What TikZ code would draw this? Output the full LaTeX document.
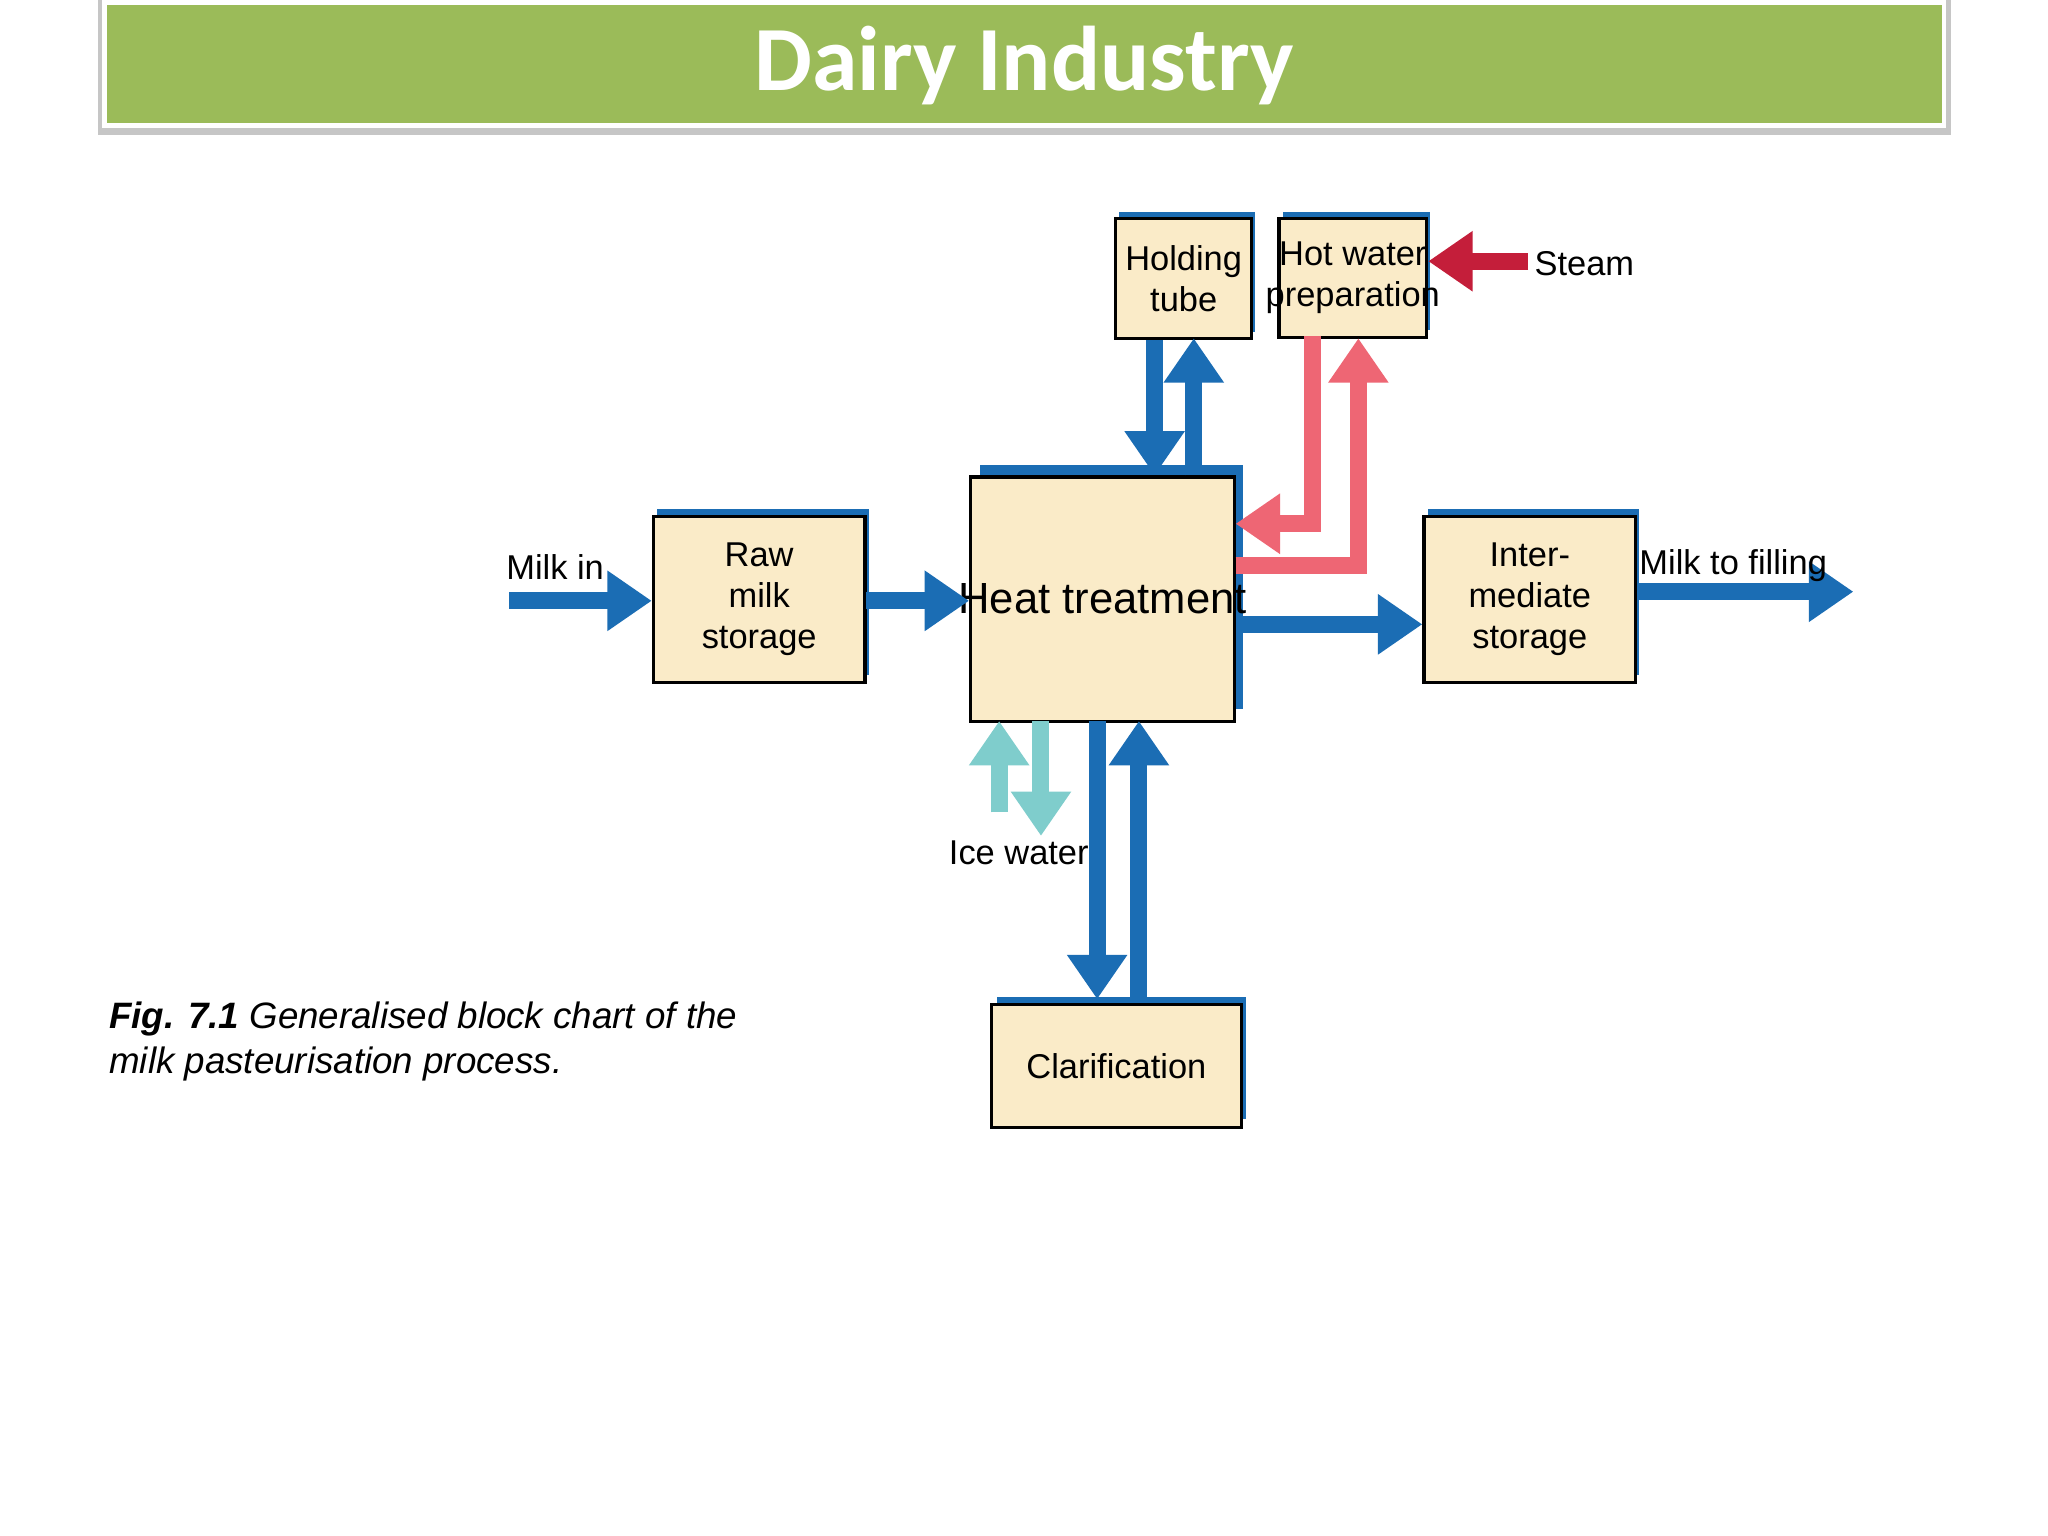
\documentclass[tikz,border=0pt]{standalone}
\usepackage{fontspec}
\setmainfont{Liberation Sans}
\newfontfamily\titlefont{Carlito}
\usetikzlibrary{arrows.meta}
\definecolor{bblue}{HTML}{1B6DB4}
\definecolor{beige}{HTML}{FAEBC8}
\definecolor{tgreen}{HTML}{9BBB59}
\definecolor{pinkr}{HTML}{EE6674}
\definecolor{steamr}{HTML}{C41E3A}
\definecolor{icec}{HTML}{7FCDCC}
\tikzset{
 pbox/.style={draw=black,line width=0.25mm,fill=beige,align=center,font=\fontsize{7.5}{8.5}\selectfont,inner sep=0pt},
 fat/.style={line width=1.3mm,-{Triangle[length=3.4mm,width=4.4mm]}},
 lbl/.style={font=\fontsize{7.5}{9}\selectfont,inner sep=0pt}
}
\newcommand{\pbx}[6]{% name, x1,y1,x2,y2, off
 \fill[bblue] (#2+#6,#3-#6) rectangle (#4+#6,#5-#6);
 \node[pbox,minimum width={(#4-#2)*0.1mm},minimum height={(#5-#3)*0.1mm},anchor=north west] (#1) at (#2,#3) {};
}
\begin{document}
\begin{tikzpicture}[x=0.1mm,y=-0.1mm]
\useasboundingbox (0,0) rectangle (1568,1176);
\fill[white] (0,0) rectangle (1568,1176);
% title banner
\fill[gray!45] (75,0) rectangle (1494,103);
\fill[white] (78,0) rectangle (1490,98);
\fill[tgreen] (82,4) rectangle (1487,94);
\node[text=white,font=\titlefont\bfseries\fontsize{20}{24}\selectfont] (title) at (784,50) {Dairy Industry};
% boxes
\pbx{raw}{499}{394}{661}{521}{4}
\pbx{heat}{742}{364}{944}{551}{8}
\pbx{hold}{853}{166}{957}{258}{4}
\pbx{hot}{978}{166}{1091}{257}{4}
\pbx{inter}{1089}{394}{1251}{521}{4}
\pbx{clar}{758}{768}{949}{862}{5}
\node[lbl,align=center] at (raw.center) {Raw\\milk\\storage};
\node[font=\fontsize{9.5}{11}\selectfont] at (heat.center) {Heat treatment};
\node[lbl,align=center] at (hold.center) {Holding\\tube};
\node[lbl,align=center] at (hot.center) {Hot water\\preparation};
\node[lbl,align=center] at (inter.center) {Inter-\\mediate\\storage};
\node[lbl] at (clar.center) {Clarification};
% coordinates
\coordinate (milkin) at (390,460);
\coordinate (out) at (1419,453);
\coordinate (steam) at (1170,200);
\coordinate (iceA) at (765,622);
\coordinate (iceB) at (797,640);
% arrows
\draw[fat,bblue] (milkin) -- (raw.west|-milkin);
\draw[fat,bblue] (663,460) -- (heat.west|-0,460);
\draw[fat,bblue] (952,478) -- (inter.west|-0,478);
\draw[fat,bblue] (1255,453) -- (out);
\draw[fat,bblue] (hold.south-|884,0) -- (heat.north-|884,0);
\draw[fat,bblue] (914,364) -- (914,259);
\draw[fat,pinkr,rounded corners=0] (1005,257) -- (1005,401) -- (946,401);
\draw[fat,pinkr] (946,433) -- (1040,433) -- (1040,259);
\draw[fat,steamr] (steam) -- (hot.east|-steam);
\draw[fat,icec] (iceA) -- (765,552);
\draw[fat,icec] (797,552) -- (iceB);
\draw[fat,bblue] (840,552) -- (840,765);
\draw[fat,bblue] (872,766) -- (872,552);
% labels
\node[lbl] (lmilk) at (425,434) {Milk in};
\node[lbl] (lfill) at (1327,433) {Milk to filling};
\node[lbl] (lsteam) at (1213,202) {Steam};
\node[lbl] (lice) at (780,653) {Ice water};
\node[anchor=north west,align=left,font=\itshape\fontsize{8}{10}\selectfont,inner sep=0pt] (cap) at (83,766)
 {\textbf{Fig. 7.1} Generalised block chart of the\\milk pasteurisation process.};
\end{tikzpicture}
\end{document}
